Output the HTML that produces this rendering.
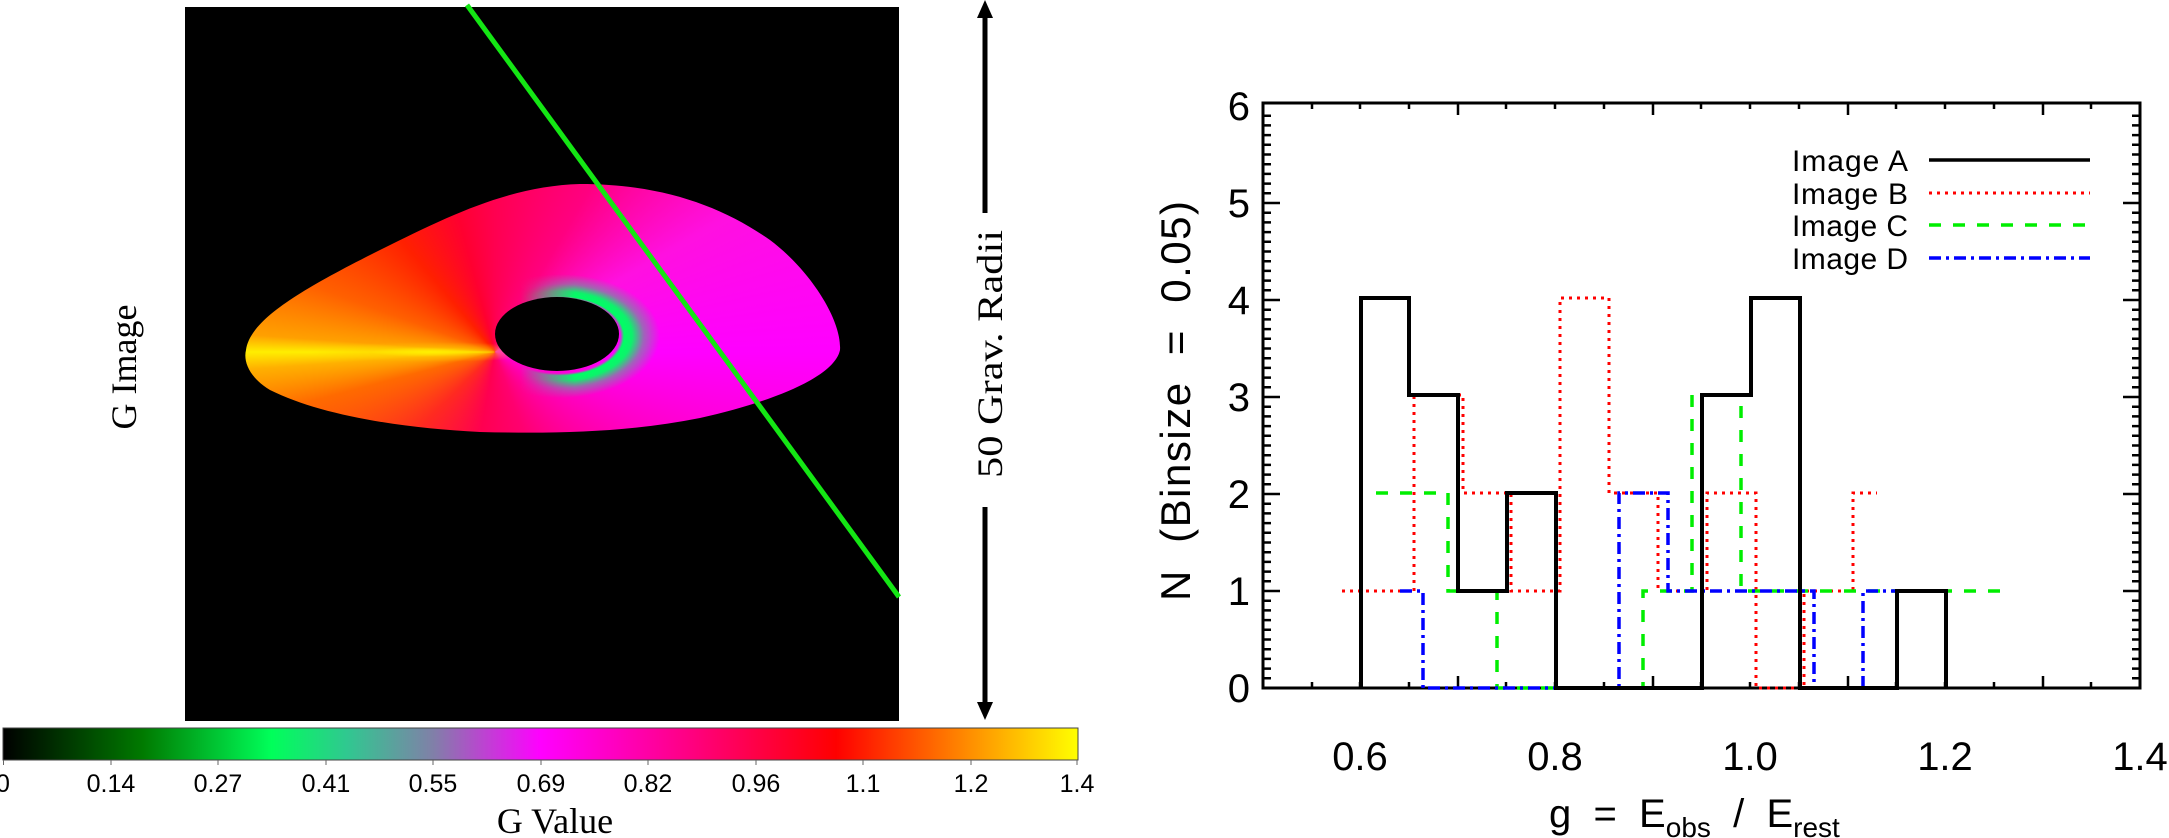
<!DOCTYPE html>
<html><head><meta charset="utf-8"><style>
html,body{margin:0;padding:0;background:#fff;}
#wrap{position:relative;width:2169px;height:838px;overflow:hidden;background:#fff;}
#disk{position:absolute;left:0;top:0;width:2169px;height:838px;
clip-path:path('M246,350 C250,320 300,290 380,250 C450,215 510,186 580,184 C660,184 720,205 770,240 C810,270 842,320 840,350 C835,375 780,400 700,418 C630,432 560,434 480,432 C400,428 320,415 270,390 C250,378 243,362 246,350 Z');
background:
radial-gradient(ellipse 120px 10px at 430px 352px, rgba(255,240,0,0.9) 0, rgba(255,200,0,0.4) 50%, rgba(255,160,0,0) 100%),
conic-gradient(from 0deg at 495px 352px, #ff0050 0deg, #ff0080 30deg, #ff10e0 60deg, #ff00ff 90deg, #ff00c0 120deg, #ff0070 160deg, #ff0050 190deg, #ff2a20 225deg, #ff6a00 255deg, #ffb000 266deg, #ffee00 270deg, #ffa000 274deg, #ff6000 290deg, #ff2000 320deg, #ff0030 345deg, #ff0050 360deg);}
#ring{position:absolute;left:0;top:0;width:2169px;height:838px;
background:radial-gradient(ellipse 100px 62px at 560px 336px, rgba(0,255,100,0) 0, rgba(0,255,100,0) 60%, rgba(0,255,100,1) 64%, rgba(0,255,100,0.95) 72%, rgba(120,140,160,0.7) 84%, rgba(200,60,220,0) 100%);
-webkit-mask-image:linear-gradient(90deg, transparent 0, transparent 520px, #000 575px, #000 100%);
mask-image:linear-gradient(90deg, transparent 0, transparent 520px, #000 575px, #000 100%);}
</style></head><body><div id="wrap">
<svg width="2169" height="838" style="position:absolute;left:0;top:0" xmlns="http://www.w3.org/2000/svg">
<defs>
<linearGradient id="cb" x1="0" x2="1" y1="0" y2="0">
<stop offset="0" stop-color="#000"/>
<stop offset="0.13" stop-color="#007a00"/>
<stop offset="0.25" stop-color="#00ff5a"/>
<stop offset="0.32" stop-color="#30c890"/>
<stop offset="0.40" stop-color="#8080a8"/>
<stop offset="0.50" stop-color="#ff00ff"/>
<stop offset="0.64" stop-color="#ff0080"/>
<stop offset="0.775" stop-color="#ff0000"/>
<stop offset="0.915" stop-color="#ffa000"/>
<stop offset="1" stop-color="#ffff00"/>
</linearGradient>
</defs>
<rect x="185" y="7" width="714" height="714" fill="#000"/>
</svg>
<div id="disk"><div id="ring"></div></div>
<svg width="2169" height="838" style="position:absolute;left:0;top:0" xmlns="http://www.w3.org/2000/svg" font-family="Liberation Sans, sans-serif">
<ellipse cx="557" cy="334" rx="62" ry="37" fill="#000"/>
<line x1="467" y1="5" x2="899" y2="597" stroke="#14e614" stroke-width="5"/>
<!-- colorbar -->
<rect x="3" y="728" width="1075" height="32" fill="url(#cb)" stroke="#444" stroke-width="1"/>
<g stroke="#666" stroke-width="1">
<line x1="3.5" y1="760" x2="3.5" y2="765"/><line x1="111" y1="760" x2="111" y2="765"/><line x1="218" y1="760" x2="218" y2="765"/><line x1="326" y1="760" x2="326" y2="765"/><line x1="433" y1="760" x2="433" y2="765"/><line x1="541" y1="760" x2="541" y2="765"/><line x1="648" y1="760" x2="648" y2="765"/><line x1="756" y1="760" x2="756" y2="765"/><line x1="863" y1="760" x2="863" y2="765"/><line x1="971" y1="760" x2="971" y2="765"/><line x1="1077" y1="760" x2="1077" y2="765"/>
</g>
<g font-size="25" text-anchor="middle" fill="#000">
<text x="3" y="792">0</text><text x="111" y="792">0.14</text><text x="218" y="792">0.27</text><text x="326" y="792">0.41</text><text x="433" y="792">0.55</text><text x="541" y="792">0.69</text><text x="648" y="792">0.82</text><text x="756" y="792">0.96</text><text x="863" y="792">1.1</text><text x="971" y="792">1.2</text><text x="1077" y="792">1.4</text>
</g>
<text x="555" y="833" font-family="Liberation Serif, serif" font-size="36" text-anchor="middle">G Value</text>
<text transform="translate(136,367) rotate(-90)" font-family="Liberation Serif, serif" font-size="36" text-anchor="middle">G Image</text>
<!-- arrow -->
<line x1="985" y1="16" x2="985" y2="213" stroke="#000" stroke-width="5"/>
<polygon points="985,0 977,18 993,18" fill="#000"/>
<line x1="985" y1="507" x2="985" y2="702" stroke="#000" stroke-width="5"/>
<polygon points="985,720 977,702 993,702" fill="#000"/>
<text transform="translate(1002,354) rotate(-90)" font-family="Liberation Serif, serif" font-size="36" text-anchor="middle" textLength="248" lengthAdjust="spacingAndGlyphs">50 Grav. Radii</text>
<!-- right chart axes -->
<rect x="1263" y="103" width="877" height="585" fill="none" stroke="#000" stroke-width="3"/>
<g stroke="#000" stroke-width="2.5">
<path d="M1263,688v-9M1263,103v9M1312,688v-6M1312,103v6M1360,688v-6M1360,103v6M1409,688v-6M1409,103v6M1458,688v-12M1458,103v12M1506,688v-6M1506,103v6M1555,688v-6M1555,103v6M1604,688v-6M1604,103v6M1653,688v-12M1653,103v12M1701,688v-6M1701,103v6M1750,688v-6M1750,103v6M1799,688v-6M1799,103v6M1848,688v-12M1848,103v12M1896,688v-6M1896,103v6M1945,688v-6M1945,103v6M1994,688v-6M1994,103v6M2043,688v-12M2043,103v12M2091,688v-6M2091,103v6"/>
<path id="yt" d="M1263,678.3h8M1263,668.6h8M1263,658.9h8M1263,649.2h8M1263,639.5h8M1263,629.8h8M1263,620.1h8M1263,610.4h8M1263,600.7h8M1263,591h17M1263,581.3h8M1263,571.6h8M1263,561.9h8M1263,552.2h8M1263,542.5h8M1263,532.8h8M1263,523.1h8M1263,513.4h8M1263,503.7h8M1263,494h17M1263,484.3h8M1263,474.6h8M1263,464.9h8M1263,455.2h8M1263,445.5h8M1263,435.8h8M1263,426.1h8M1263,416.4h8M1263,406.7h8M1263,397h17M1263,387.3h8M1263,377.6h8M1263,367.9h8M1263,358.2h8M1263,348.5h8M1263,338.8h8M1263,329.1h8M1263,319.4h8M1263,309.7h8M1263,300h17M1263,290.3h8M1263,280.6h8M1263,270.9h8M1263,261.2h8M1263,251.5h8M1263,241.8h8M1263,232.1h8M1263,222.4h8M1263,212.7h8M1263,203h17M1263,193.3h8M1263,183.6h8M1263,173.9h8M1263,164.2h8M1263,154.5h8M1263,144.8h8M1263,135.1h8M1263,125.4h8M1263,115.7h8"/>
<use href="#yt" transform="translate(3403,0) scale(-1,1)"/>
</g>
<g font-size="40" text-anchor="end">
<text x="1250" y="702">0</text><text x="1250" y="605">1</text><text x="1250" y="508">2</text><text x="1250" y="411">3</text><text x="1250" y="314">4</text><text x="1250" y="217">5</text><text x="1250" y="120">6</text>
</g>
<g font-size="40" text-anchor="middle">
<text x="1360" y="770">0.6</text><text x="1555" y="770">0.8</text><text x="1750" y="770">1.0</text><text x="1945" y="770">1.2</text><text x="2140" y="770">1.4</text>
</g>
<text transform="translate(1190,401) rotate(-90)" font-size="42" text-anchor="middle" textLength="400" lengthAdjust="spacing" xml:space="preserve">N  (Binsize  =  0.05)</text>
<text x="1549" y="827" font-size="40" xml:space="preserve">g  =  E<tspan font-size="28" dy="10">obs</tspan><tspan dy="-10">  /  E</tspan><tspan font-size="28" dy="10">rest</tspan></text>
<!-- histograms -->
<g fill="none">
<path d="M1342,591H1414V395H1463V493H1511V591H1560V298H1609V493H1658V591H1707V493H1756V688H1804V591H1853V493H1877" stroke="#ff0000" stroke-width="3" stroke-dasharray="3,5"/>
<path d="M1376,493H1448V591H1497V688H1643V591H1692V395H1741V591H2010" stroke="#00ee00" stroke-width="3.5" stroke-dasharray="12,12"/>
<path d="M1400,591H1423V688H1619V493H1668V591H1814V688H1863V591H1946" stroke="#0000ff" stroke-width="3.5" stroke-dasharray="12,5,3,5"/>
<path d="M1361,688V298H1409V395H1458V591H1507V493H1556V688H1702V395H1751V298H1800V688H1897V591H1946V688" stroke="#000" stroke-width="4"/>
</g>
<!-- legend -->
<g font-size="30" text-anchor="end" xml:space="preserve">
<text x="1908" y="171" textLength="116" lengthAdjust="spacing">Image  A</text><text x="1908" y="204" textLength="116" lengthAdjust="spacing">Image  B</text><text x="1908" y="236" textLength="116" lengthAdjust="spacing">Image  C</text><text x="1908" y="269" textLength="116" lengthAdjust="spacing">Image  D</text>
</g>
<line x1="1929" y1="160" x2="2090" y2="160" stroke="#000" stroke-width="3.5"/>
<line x1="1929" y1="193" x2="2090" y2="193" stroke="#ff0000" stroke-width="3" stroke-dasharray="3,5"/>
<line x1="1929" y1="225" x2="2090" y2="225" stroke="#00ee00" stroke-width="3.5" stroke-dasharray="12,12"/>
<line x1="1929" y1="258" x2="2090" y2="258" stroke="#0000ff" stroke-width="3.5" stroke-dasharray="12,5,3,5"/>
</svg>
</div></body></html>
